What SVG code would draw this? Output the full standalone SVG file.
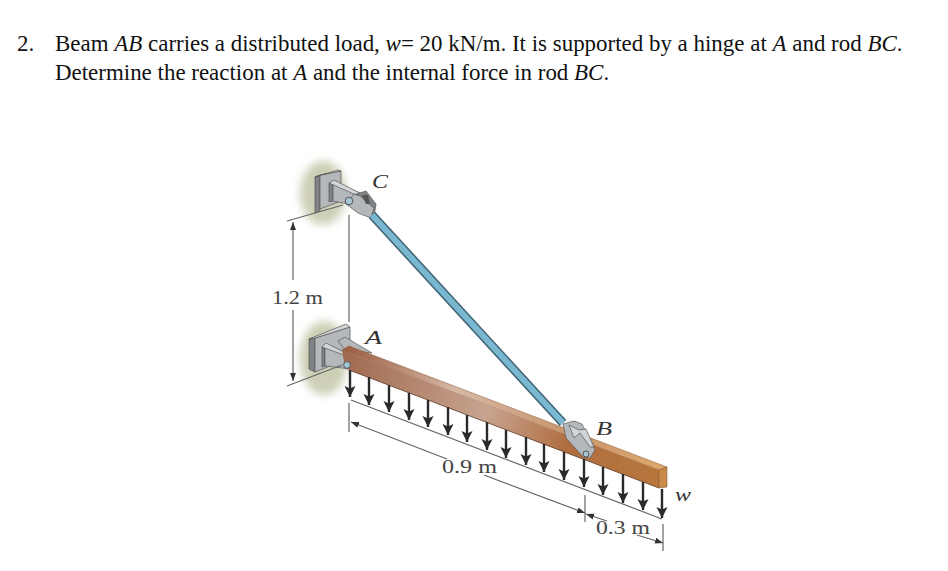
<svg xmlns="http://www.w3.org/2000/svg" width="948" height="571" viewBox="0 0 948 571">
<style>
.h{font:22.95px "Liberation Serif","Times New Roman",serif;fill:#111}
.i{font-style:italic}
.d{font:18px "Liberation Serif",serif;fill:#444}
.l{font:italic 18px "Liberation Serif",serif;fill:#333}
.dim{stroke:#666;stroke-width:1.2;fill:none}
.load{stroke:#2a2a2a;stroke-width:2.4;fill:none;marker-end:url(#la)}
.dimA{stroke:#666;stroke-width:1.2;fill:none;marker-end:url(#da)}
.gf{fill:#b4b8bb;stroke:#555;stroke-width:.7}
.gd{fill:#7f8386;stroke:#555;stroke-width:.7}
.gl{fill:#d2d5d7;stroke:#555;stroke-width:.7}
</style>
<defs>
<marker id="la" markerUnits="userSpaceOnUse" markerWidth="12" markerHeight="14" refX="11" refY="6" orient="auto"><path d="M0,0.5L11,6L0,11.5L2.5,6Z" fill="#2a2a2a"/></marker>
<marker id="da" markerUnits="userSpaceOnUse" markerWidth="9" markerHeight="8" refX="8" refY="3.5" orient="auto"><path d="M0,0.5L8,3.5L0,6.5Z" fill="#333"/></marker>
<filter id="b" x="-40%" y="-40%" width="180%" height="180%"><feGaussianBlur stdDeviation="4"/></filter>
<linearGradient id="bt" gradientUnits="userSpaceOnUse" x1="345" y1="350" x2="660" y2="470"><stop offset="0" stop-color="#9c5f42"/><stop offset=".35" stop-color="#d6b8a6"/><stop offset=".7" stop-color="#c9966c"/><stop offset="1" stop-color="#dca66c"/></linearGradient>
<linearGradient id="bf" gradientUnits="userSpaceOnUse" x1="345" y1="360" x2="660" y2="480"><stop offset="0" stop-color="#a06a50"/><stop offset=".45" stop-color="#c8a490"/><stop offset=".7" stop-color="#b06e40"/><stop offset="1" stop-color="#b8763c"/></linearGradient>
</defs>
<rect width="948" height="571" fill="#fff"/>
<g id="problem-text">
<text class="h" x="17" y="51">2.</text>
<text class="h" x="55" y="51">Beam <tspan class="i">AB</tspan> carries a distributed load, <tspan class="i">w</tspan>= 20 kN/m. It is supported by a hinge at <tspan class="i">A</tspan> and rod <tspan class="i">BC</tspan>.</text>
<text class="h" x="55" y="80">Determine the reaction at <tspan class="i">A</tspan> and the internal force in rod <tspan class="i">BC</tspan>.</text>
</g>
<g id="support-C">
<ellipse cx="323" cy="193" rx="23" ry="32" fill="#cdcfb6" filter="url(#b)"/>
<polygon class="gd" points="315,177 320,175 320,211 315,213"/>
<polygon class="gf" points="320,175 341,171 341,201 320,209"/>
<polygon class="gl" points="315,177 338,170 341,171 320,175"/>
<polygon class="gd" points="329,183 333,181 333,201 329,202"/>
<polygon class="gf" points="333,183 357,192 366,203 348,204 333,201"/>
<polygon class="gl" points="329,183 334,180 360,193 356,195"/>
<polygon class="gd" points="356,194 366,191 376,204 374,217 366,210"/>
<polygon class="gf" points="346,204 354,194 360,196 374,208 371,218 358,213"/>
<polygon fill="#555" points="362,195 368,195 370,204 366,204"/>
<circle cx="349" cy="201" r="3.8" fill="#a6c6d4" stroke="#555"/>
</g>
<g id="support-A">
<ellipse cx="324" cy="358" rx="24" ry="37" fill="#cdcfb6" filter="url(#b)"/>
<polygon class="gd" points="309,339 315,338 315,372 309,369"/>
<polygon class="gf" points="315,338 350,327 350,358 315,372"/>
<polygon class="gl" points="309,339 346,324 350,327 315,338"/>
<polygon class="gf" points="338,341 345,337 372,353 345,350"/>
<polygon class="gd" points="322,347 325,345 325,366 322,367"/>
<polygon class="gf" points="325,345 352,355 358,364 352,370 343,368 325,366"/>
<polygon class="gl" points="322,347 326,343 358,359 352,358"/>
</g>
<g id="beam">
<polygon points="342,350 349,346 667,467 659,470" fill="url(#bt)" stroke="#8a5a3c" stroke-width=".5"/>
<polygon points="342,350 659,470 659,488 349,370 344,362" fill="url(#bf)"/>
<polygon points="659,470 667,467 667,487 659,488" fill="#c98a4a" stroke="#7a4a28" stroke-width=".5"/>
<path d="M349,370L659,488" stroke="#5a3a26" stroke-width=".8" fill="none"/>
<circle cx="347" cy="365" r="3.4" fill="#a6c6d4" stroke="#555"/>
</g>
<g id="rod-BC">
<line x1="372" y1="215" x2="563" y2="423" stroke="#3f6272" stroke-width="9"/>
<line x1="372" y1="215" x2="563" y2="423" stroke="#7ab8d2" stroke-width="6"/>
</g>
<g id="clevis-B">
<polygon class="gd" points="566,431 574,421 592,446 586,452"/>
<polygon class="gf" points="563,424 574,421 582,424 595,450 590,458 583,457 566,438"/>
<polygon class="gl" points="569,425 579,430 586,429 594,447 590,447 580,433 574,438"/>
<circle cx="586" cy="454" r="3" fill="#a6c6d4" stroke="#555"/>
</g>
<g id="connectors">
<path class="load" d="M350,370V397"/><path class="load" d="M369,377V405"/><path class="load" d="M389,385V412"/><path class="load" d="M409,393V420"/><path class="load" d="M428,400V427"/><path class="load" d="M448,407V435"/><path class="load" d="M467,415V442"/><path class="load" d="M487,422V450"/><path class="load" d="M506,430V458"/><path class="load" d="M526,437V465"/><path class="load" d="M544,444V472"/><path class="load" d="M564,452V480"/><path class="load" d="M584,459V487"/><path class="load" d="M603,467V495"/><path class="load" d="M623,474V503"/><path class="load" d="M643,482V510"/><path class="load" d="M662,489V518"/>
<path class="dim" d="M287,221L343,205M287,386L342,365M349,215V322M349,403V432M351,400L662,519M585,495V522M663,524V551"/>
<path class="dimA" d="M293,280V222"/><path class="dimA" d="M293,310V381"/>
<path class="dimA" d="M447,459L351,422"/><path class="dimA" d="M484,475L585,513"/>
<path class="dimA" d="M607,521L586,514"/><path class="dimA" d="M637,535L663,543"/>
</g>
<g id="labels">
<text class="d" x="272" y="304" textLength="51" lengthAdjust="spacingAndGlyphs">1.2 m</text>
<text class="d" x="442" y="473" textLength="55" lengthAdjust="spacingAndGlyphs">0.9 m</text>
<text class="d" x="596" y="534" textLength="54" lengthAdjust="spacingAndGlyphs">0.3 m</text>
<text class="l" x="372" y="188" textLength="16" lengthAdjust="spacingAndGlyphs">C</text>
<text class="l" x="365" y="344" textLength="17" lengthAdjust="spacingAndGlyphs">A</text>
<text class="l" x="596" y="435" font-weight="bold" textLength="16" lengthAdjust="spacingAndGlyphs">B</text>
<text class="l" x="675" y="501" textLength="16" lengthAdjust="spacingAndGlyphs">w</text>
</g>
</svg>
